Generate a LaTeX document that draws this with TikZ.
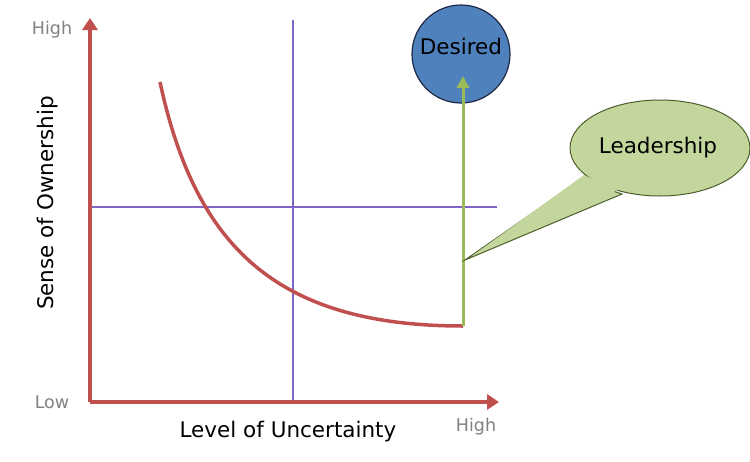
\documentclass[tikz,border=0pt]{standalone}
\usepackage{fontspec}
\setmainfont{DejaVu Sans}
\usetikzlibrary{arrows.meta,shapes.geometric}
\definecolor{axred}{RGB}{192,80,77}
\definecolor{purp}{RGB}{128,100,200}
\definecolor{grn}{RGB}{155,187,89}
\definecolor{lgrn}{RGB}{195,214,155}
\definecolor{blu}{RGB}{79,129,189}
\definecolor{dblu}{RGB}{30,40,70}
\tikzset{axis/.style={axred,line width=4pt,-{Triangle[length=12pt,width=15pt]}},
guide/.style={purp,line width=1.3pt},
lbl/.style={font=\fontsize{17.5}{20}\selectfont,text=gray},
big/.style={font=\fontsize{21.5}{25}\selectfont}}
\begin{document}
\begin{tikzpicture}[x=1pt,y=-1pt]
\useasboundingbox (0,0) rectangle (750,461);
\coordinate (o) at (90,402);
\coordinate (yt) at (90,18);
\coordinate (xt) at (499,402);
\draw[guide] (293,20) -- (293,402);
\draw[guide] (90,207) -- (497,207);
\draw[axis] (o) -- (yt);
\draw[axis] (o) -- (xt);
\node[lbl] (hy) at (52,30) {High};
\node[lbl] (lo) at (52,402) {Low};
\node[lbl] (hx) at (476,427) {High};
\node[big] (xl) at (288,432) {Level of Uncertainty};
\node[big,rotate=90] (yl) at (48,203) {Sense of Ownership};
\node[circle,draw=dblu,line width=1.2pt,fill=blu,minimum size=98pt,inner sep=0pt] (des) at (461,54) {};
\node[big] (dt) at (461,46) {Desired};
\coordinate (cs) at (160,82);
\coordinate (ce) at (463,326);
\draw[axred,line width=3.5pt] (cs) .. controls (195,245) and (275,326) .. (ce);
\draw[grn,line width=3pt,-{Triangle[length=12pt,width=12pt]}] (ce) -- (463,76);
\coordinate (tip) at (465,260);
\draw[draw=grn!50!black,fill=lgrn,line width=1pt] (580,180) -- (tip) -- (622,194) -- cycle;
\node[ellipse,draw=grn!50!black,fill=lgrn,line width=1pt,minimum width=180pt,minimum height=96pt,inner sep=0pt] (ld) at (660,148) {};
\fill[lgrn] (584,175) -- (472,256) -- (618,190) -- cycle;
\node[big] (lt) at (658,148) {Leadership};
\end{tikzpicture}
\end{document}
